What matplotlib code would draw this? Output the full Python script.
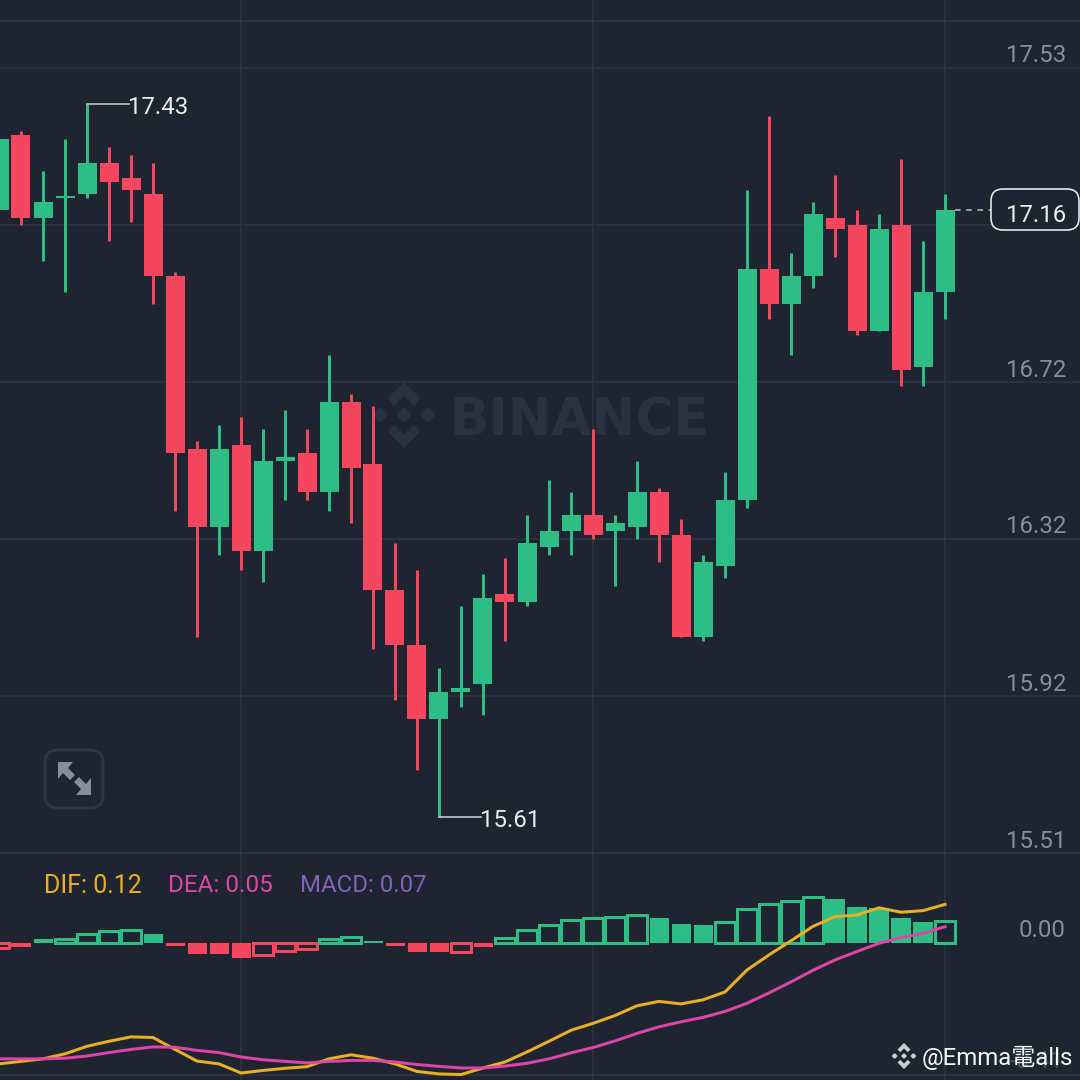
import matplotlib
matplotlib.use("Agg")
import matplotlib.pyplot as plt
from matplotlib.patches import FancyBboxPatch, Polygon
import numpy as np

# ---------- data ----------
opens  = [17.16,17.35,17.14,17.19,17.20,17.28,17.24,17.20,16.99,16.55,16.35,16.56,16.29,16.52,16.54,16.44,16.67,16.51,16.19,16.05,15.86,15.93,15.95,16.18,16.16,16.30,16.34,16.38,16.34,16.35,16.44,16.33,16.07,16.25,16.42,17.01,16.92,16.99,17.14,17.12,16.85,17.12,16.76,16.95]
highs  = [17.39,17.36,17.26,17.34,17.43,17.32,17.30,17.28,17.00,16.57,16.61,16.63,16.60,16.65,16.60,16.79,16.69,16.66,16.31,16.24,15.99,16.15,16.23,16.27,16.38,16.47,16.44,16.60,16.38,16.52,16.45,16.37,16.28,16.49,17.21,17.40,17.05,17.18,17.25,17.16,17.15,17.29,17.08,17.20]
lows   = [17.09,17.12,17.03,16.95,17.19,17.08,17.13,16.92,16.39,16.07,16.28,16.24,16.21,16.42,16.42,16.39,16.36,16.04,15.91,15.73,15.61,15.89,15.87,16.06,16.15,16.28,16.28,16.32,16.20,16.32,16.26,16.07,16.06,16.22,16.40,16.88,16.79,16.96,17.04,16.84,16.85,16.71,16.71,16.88]
closes = [17.34,17.14,17.18,17.19,17.28,17.23,17.21,16.99,16.54,16.35,16.55,16.29,16.52,16.53,16.44,16.67,16.50,16.19,16.05,15.86,15.93,15.94,16.17,16.16,16.31,16.34,16.38,16.33,16.36,16.44,16.33,16.07,16.26,16.42,17.01,16.92,16.99,17.15,17.11,16.85,17.11,16.75,16.95,17.16]

hist = [-.015,-.013,.013,.015,.030,.038,.042,.030,-.008,-.034,-.035,-.047,-.038,-.023,-.017,.013,.020,.008,-.010,-.027,-.027,-.028,-.013,.018,.042,.057,.073,.079,.083,.089,.081,.060,.057,.068,.109,.125,.136,.146,.141,.116,.111,.080,.067,.070]
hist_hollow = [1,0,0,1,1,1,1,0,0,0,0,0,1,1,1,1,1,0,0,0,0,1,0,1,1,1,1,1,1,1,0,0,0,1,1,1,1,1,0,0,0,0,0,1]
dif = [-.384,-.376,-.368,-.352,-.328,-.312,-.298,-.300,-.338,-.375,-.384,-.413,-.405,-.398,-.393,-.368,-.355,-.366,-.384,-.408,-.416,-.418,-.397,-.378,-.346,-.312,-.277,-.255,-.230,-.199,-.185,-.193,-.180,-.155,-.085,-.037,.008,.054,.085,.090,.113,.099,.104,.124]
dea = [-.368,-.368,-.368,-.366,-.359,-.348,-.338,-.330,-.331,-.341,-.348,-.362,-.371,-.376,-.381,-.376,-.373,-.373,-.378,-.386,-.392,-.397,-.397,-.391,-.382,-.368,-.349,-.332,-.311,-.287,-.266,-.250,-.236,-.217,-.191,-.158,-.123,-.086,-.053,-.026,0.0,.019,.031,.053]

price_grid = [17.642,17.522,17.121,16.720,16.320,15.919,15.518]
price_tick_values = [17.522,16.720,16.320,15.919,15.518]
price_tick_labels = ["17.53","16.72","16.32","15.92","15.51"]
macd_grid = [-0.4195]
macd_tick_values = [0.0,-0.4195]
macd_tick_labels = ["0.00","-0.41"]
vgrid = [11,27,43]
last_price = 17.16
legend_labels = ["DIF: 0.12","DEA: 0.05","MACD: 0.07"]
# ---------- style ----------
BG="#1f2530"; GRID="#2d333f"; GREEN="#2ebd85"; RED="#f6465d"; TXT="#eaecef"; AX="#848e9c"
FONT="Roboto"
plt.rcParams['font.family']=[FONT,'Noto Sans CJK SC','DejaVu Sans']
W=1080
fig=plt.figure(figsize=(10.8,10.8),dpi=100,facecolor=BG)
def axpx(top,bottom,z):
    a=fig.add_axes([0,1-bottom/W,1,(bottom-top)/W],zorder=z)
    a.patch.set_alpha(0)
    for s in a.spines.values(): s.set_visible(False)
    return a
px=lambda p:p*0.72  # px -> pt

bg=axpx(0,1080,0); bg.set_xlim(0,W); bg.set_ylim(W,0); bg.axis('off')
ax=axpx(0,860,2); mx=axpx(860,1080,2)
top=axpx(0,1080,4); top.set_xlim(0,W); top.set_ylim(W,0); top.axis('off')

def logo(a,cx,cy,r,color,z=1):
    def poly(pts): a.add_patch(Polygon([(cx+x*r,cy-y*r) for x,y in pts],closed=True,fc=color,ec='none',zorder=z))
    d=0.235
    for ox in (-0.72,0,0.72):
        poly([(ox,d),(ox+d,0),(ox,-d),(ox-d,0)])
    for s in (1,-1):
        poly([(-.5,.5*s),(0,1.0*s),(.5,.5*s),(.29,.29*s),(0,.58*s),(-.29,.29*s)])

logo(bg,404,415,33,"#2c313d")
bg.text(449,416,"BINANCE",family='DejaVu Sans',fontweight='bold',fontsize=px(52),color="#2c313d",va='center_baseline',ha='left')

x=np.arange(len(opens))
ax.set_xlim(1/22,1081/22); mx.set_xlim(1/22,1081/22)
ax.set_ylim(17.43-(860-104)/391.8,17.43+104/391.8)
mx.set_ylim((943.3-1080)/314,(943.3-860)/314)
for a,g in ((ax,price_grid),(mx,macd_grid)):
    a.set_yticks(g); a.set_xticks(vgrid); a.set_yticklabels([]); a.set_xticklabels([])
    a.tick_params(length=0)
    a.grid(True,color=GRID,lw=px(1.6)); a.set_axisbelow(True)

o=np.array(opens);c=np.array(closes);h=np.array(highs);l=np.array(lows)
col=[GREEN if cc>=oo else RED for oo,cc in zip(o,c)]
ax.vlines(x,l,h,colors=col,lw=px(3),zorder=3)
ax.bar(x,np.maximum(np.abs(c-o),0.006),bottom=np.minimum(o,c),width=19/22,color=col,zorder=4,lw=0)

hv=np.array(hist); hc=[GREEN if v>0 else RED for v in hv]
for xi,v,cl,ho in zip(x,hv,hc,hist_hollow):
    if ho: mx.bar(xi,v,width=20/22,fc=BG,ec=cl,lw=px(3),zorder=3)
    else:  mx.bar(xi,v,width=19/22,color=cl,lw=0,zorder=3)
mx.plot(x,dif,color="#e9b023",lw=px(3),zorder=5,solid_joinstyle='round')
mx.plot(x,dea,color="#dd45a8",lw=px(3),zorder=6,solid_joinstyle='round')

# tick labels
for v,t in zip(price_tick_values,price_tick_labels):
    ax.annotate(t,xy=(1,v),xycoords=('axes fraction','data'),xytext=(-44,12),textcoords='offset pixels',
                ha='center',va='center',fontsize=px(24),color=AX)
mx.annotate(macd_tick_labels[0],xy=(1,macd_tick_values[0]),xycoords=('axes fraction','data'),xytext=(-38,13),textcoords='offset pixels',
            ha='center',va='center',fontsize=px(24),color=AX)
mx.annotate(macd_tick_labels[1],xy=(1,macd_tick_values[1]),xycoords=('axes fraction','data'),xytext=(-44,14),textcoords='offset pixels',
            ha='center',va='center',fontsize=px(24),color="#4a505c")

# high / low callouts
ih=int(np.argmax(h)); il=int(np.argmin(l))
ax.plot([ih,ih+42/22],[h[ih],h[ih]],color="#c9ccd1",lw=px(1.6),zorder=5)
ax.annotate(f"{h[ih]:.2f}",xy=(ih+42/22,h[ih]),xytext=(-1,-3),textcoords='offset pixels',ha='left',va='center',fontsize=px(24),color=TXT,zorder=6)
ax.plot([il,il+42/22],[l[il],l[il]],color="#c9ccd1",lw=px(1.6),zorder=5)
ax.annotate(f"{l[il]:.2f}",xy=(il+42/22,l[il]),xytext=(-1,-3),textcoords='offset pixels',ha='left',va='center',fontsize=px(24),color=TXT,zorder=6)

# last price
ax.plot([43+10/22,43+46/22],[last_price,last_price],color="#b7bbc2",lw=px(1.6),dashes=(3.5,3.5),zorder=3)
top.add_patch(FancyBboxPatch((991,189),88,41,boxstyle="round,pad=0,rounding_size=12",fc=BG,ec=TXT,lw=px(1.6),zorder=5))
top.text(1036,215,f"{last_price:.2f}",ha='center',va='center',fontsize=px(24),color=TXT,zorder=6)

# legend
for xp,t,cl,fs in zip((44,168,300),legend_labels,("#e9b023","#dd45a8","#8460b8"),(25,24.3,24)):
    top.text(xp,886,t,ha='left',va='center',fontsize=px(fs),color=cl)

# expand button
top.add_patch(FancyBboxPatch((45,750),58,58,boxstyle="round,pad=0,rounding_size=13",fc=BG,ec="#2f3541",lw=px(3)))
UL=[(58,762),(73,762),(68,768),(75,775),(70,780),(63,773),(58,779)]
top.add_patch(Polygon(UL,fc=AX,ec='none'))
top.add_patch(Polygon([(149-a,1557-b) for a,b in UL],fc=AX,ec='none'))

# author watermark
logo(top,904,1056,13,"#c9ccd1",z=6)
top.text(922,1058,"@Emma電alls",ha='left',va='center',fontsize=px(24),color="#f2f3f5",zorder=6)

fig.savefig("out.png",dpi=100,facecolor=BG)
